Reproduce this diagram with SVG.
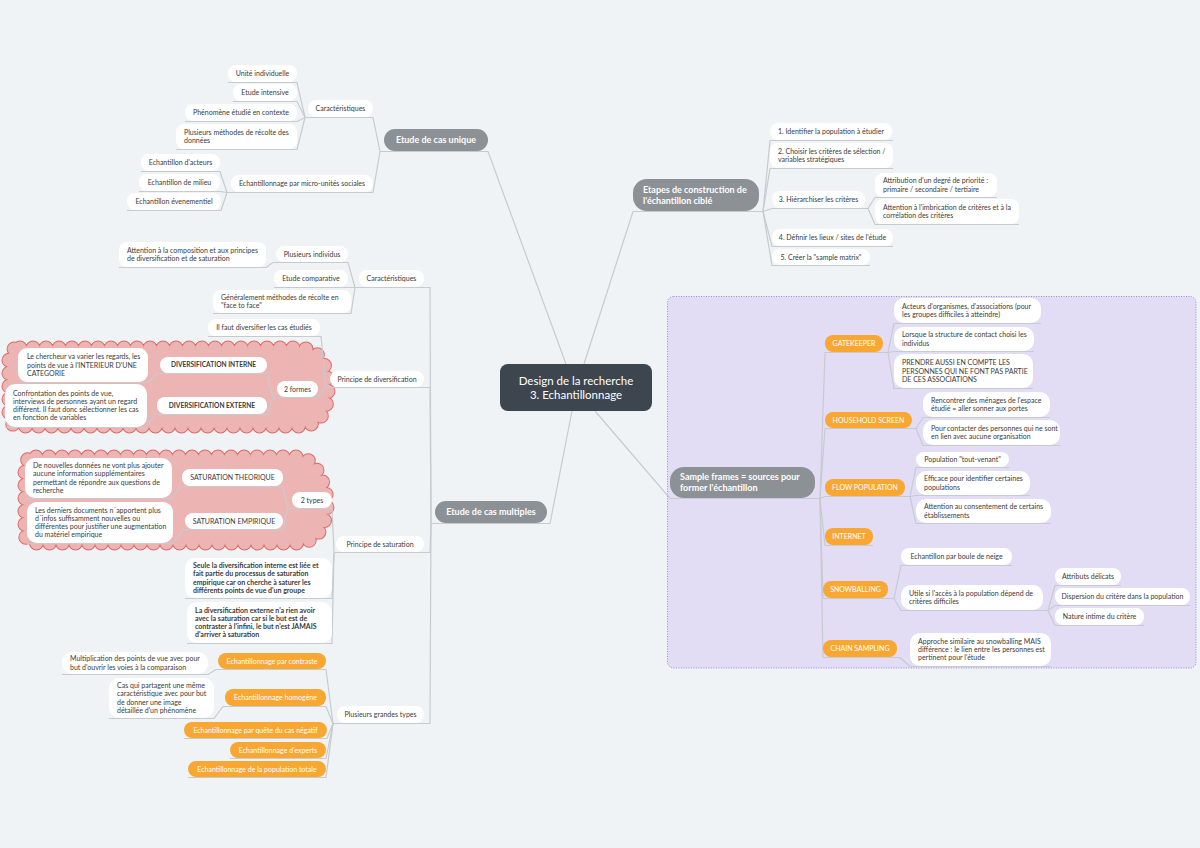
<svg xmlns="http://www.w3.org/2000/svg" width="1200" height="848" viewBox="0 0 1200 848">
<style>
text{font-family:Lato,"Noto Sans","Liberation Sans",sans-serif;font-size:7px;fill:#3a3a3a}
.m{text-anchor:middle}
.b{font-weight:bold}
.cap{font-size:6.6px}
.n rect{fill:#fff}
.o rect{fill:#f9a733}
.o text{fill:#fff}
.g rect{fill:#8c9196}
.g text{fill:#fff;font-weight:bold;font-size:9px}
#conn path{fill:none;stroke:#c6cbd0;stroke-width:1.2}
</style>
<defs>
<path id="cl1" d="M 20 348 H 300 Q 328 350 328 388 Q 328 426 300 426 H 20 Q 9 426 9 415 V 359 Q 9 348 20 348 Z"/>
<path id="cl2" d="M 36 457 H 296 Q 310 457 318 472 Q 330 494 326 515 Q 320 543 296 543 H 36 Q 25 543 25 532 V 468 Q 25 457 36 457 Z"/>
</defs>
<rect width="1200" height="848" fill="#eff3f6"/>
<g id="panel">
<rect x="667.5" y="296.5" width="528.5" height="371.5" rx="6" fill="#e2ddf5" stroke="#9a84e6" stroke-width="1" stroke-dasharray="1 1.5"/>
</g>
<g id="clouds">
<use href="#cl1" fill="none" stroke="#e06a68" stroke-width="15" stroke-dasharray="0 13" stroke-linecap="round"/>
<use href="#cl1" fill="#ecb5b4" stroke="#ecb5b4" stroke-width="13" stroke-dasharray="0 13" stroke-linecap="round"/>
<use href="#cl2" fill="none" stroke="#e06a68" stroke-width="15" stroke-dasharray="0 13" stroke-linecap="round"/>
<use href="#cl2" fill="#ecb5b4" stroke="#ecb5b4" stroke-width="13" stroke-dasharray="0 13" stroke-linecap="round"/>
</g>
<g id="conn">
<path d="M 566 364 L 488 151.5 H 380"/>
<path d="M 584 364 L 633 211.5 H 763"/>
<path d="M 572 411 L 550 523.5 H 431"/>
<path d="M 595 411 L 670 498.5 H 820"/>
<path d="M 380 151.5 L 373 117.5 H 305"/>
<path d="M 380 151.5 L 373 192.5 H 227"/>
<path d="M 305 117.5 L 297 82.5 H 228"/>
<path d="M 305 117.5 L 297 101.5 H 233"/>
<path d="M 305 117.5 L 297 121.5 H 185"/>
<path d="M 305 117.5 L 297 149.5 H 176"/>
<path d="M 227 192.5 L 220 171.5 H 141"/>
<path d="M 227 192.5 L 220 191.5 H 139"/>
<path d="M 227 192.5 L 221 210.5 H 127"/>
<path d="M 763 211.5 L 770 140.5 H 893"/>
<path d="M 763 211.5 L 770 168.5 H 893"/>
<path d="M 763 211.5 L 772 208.5 H 868"/>
<path d="M 763 211.5 L 772 246.5 H 893"/>
<path d="M 763 211.5 L 772 265.5 H 870"/>
<path d="M 868 208.5 L 875 197.5 H 997"/>
<path d="M 868 208.5 L 875 224.5 H 1019"/>
<path d="M 431 523.5 L 430 287.5 H 355"/>
<path d="M 431 523.5 L 430 387.5 H 326"/>
<path d="M 431 523.5 L 430 552.5 H 334"/>
<path d="M 431 523.5 L 430 723.5 H 333"/>
<path d="M 355 287.5 L 348 262.5 H 273"/>
<path d="M 273 262.5 L 266 267.5 H 119"/>
<path d="M 355 287.5 H 274"/>
<path d="M 355 287.5 L 351 313.5 H 213"/>
<path d="M 326 387.5 L 321 336.5 H 208"/>
<path d="M 326 387.5 L 318 397.5 H 273"/>
<path d="M 273 397.5 L 267 373.5 H 157"/>
<path d="M 273 397.5 L 267 414.5 H 154"/>
<path d="M 157 373.5 L 148 382.5 H 18"/>
<path d="M 154 414.5 L 147 427.5 H 5"/>
<path d="M 334 552.5 L 332 508.5 H 288"/>
<path d="M 334 552.5 L 332 598.5 H 185"/>
<path d="M 334 552.5 L 332 643.5 H 187"/>
<path d="M 288 508.5 L 283 486.5 H 180"/>
<path d="M 288 508.5 L 283 529.5 H 183"/>
<path d="M 180 486.5 L 172 498.5 H 25"/>
<path d="M 183 529.5 L 173 543.5 H 27"/>
<path d="M 333 723.5 L 326 669.5 H 216"/>
<path d="M 333 723.5 L 326 706.5 H 223"/>
<path d="M 333 723.5 L 327 738.5 H 184"/>
<path d="M 333 723.5 L 326 758.5 H 230"/>
<path d="M 333 723.5 L 326 777.5 H 188"/>
<path d="M 216 669.5 L 208 674.5 H 62"/>
<path d="M 223 706.5 L 214 718.5 H 109"/>
<path d="M 820 498.5 L 825 352.5 H 888"/>
<path d="M 820 498.5 L 825 428.5 H 916"/>
<path d="M 820 498.5 L 825 496.5 H 910"/>
<path d="M 820 498.5 L 825 545.5 H 873"/>
<path d="M 820 498.5 L 823 598.5 H 894"/>
<path d="M 820 498.5 L 823 657.5 H 900"/>
<path d="M 888 352.5 L 894 323.5 H 1041"/>
<path d="M 888 352.5 L 894 351.5 H 1034"/>
<path d="M 888 352.5 L 894 388.5 H 1033"/>
<path d="M 916 428.5 L 923 417.5 H 1050"/>
<path d="M 916 428.5 L 923 445.5 H 1060"/>
<path d="M 910 496.5 L 916 467.5 H 1009"/>
<path d="M 910 496.5 L 916 495.5 H 1030"/>
<path d="M 910 496.5 L 916 523.5 H 1051"/>
<path d="M 894 598.5 L 901 565.5 H 1012"/>
<path d="M 894 598.5 L 901 610.5 H 1048"/>
<path d="M 1048 610.5 L 1055 585.5 H 1121"/>
<path d="M 1048 610.5 L 1055 605.5 H 1190"/>
<path d="M 1048 610.5 L 1055 625.5 H 1144"/>
<path d="M 900 657.5 L 910 666.5 H 1051"/>
</g>

<g id="central"><rect x="500" y="364" width="152" height="47" rx="8" fill="#3d464e"/>
<text class="m" x="576" y="385" style="font-size:11.5px;fill:#fff">Design de la recherche</text>
<text class="m" x="576" y="398.5" style="font-size:11.5px;fill:#fff">3. Echantillonnage</text></g>

<g id="unique" class="g"><rect x="384" y="129" width="104" height="22" rx="11"/><text class="m" x="436" y="143.2">Etude de cas unique</text></g>
<g id="u-car" class="n"><rect x="308" y="100" width="65" height="17" rx="8"/><text class="m" x="340.5" y="111">Caractéristiques</text></g>
<g id="u-car1" class="n"><rect x="228" y="65" width="69" height="17" rx="8"/><text class="m" x="262.5" y="76">Unité individuelle</text></g>
<g id="u-car2" class="n"><rect x="233" y="84" width="64" height="17" rx="8"/><text class="m" x="265" y="95">Etude intensive</text></g>
<g id="u-car3" class="n"><rect x="185" y="104" width="112" height="17" rx="8"/><text class="m" x="241" y="115">Phénomène étudié en contexte</text></g>
<g id="u-car4" class="n"><rect x="176" y="124" width="121" height="25" rx="8"/><text x="184" y="134.9">Plusieurs méthodes de récolte des</text><text x="184" y="143.1">données</text></g>
<g id="u-micro" class="n"><rect x="231" y="175" width="142" height="17" rx="8"/><text class="m" x="302" y="186">Echantillonnage par micro-unités sociales</text></g>
<g id="u-mic1" class="n"><rect x="141" y="154" width="79" height="17" rx="8"/><text class="m" x="180.5" y="165">Echantillon d'acteurs</text></g>
<g id="u-mic2" class="n"><rect x="139" y="174" width="81" height="17" rx="8"/><text class="m" x="179.5" y="185">Echantillon de milieu</text></g>
<g id="u-mic3" class="n"><rect x="127" y="193" width="94" height="17" rx="8"/><text class="m" x="174" y="204">Echantillon évenementiel</text></g>

<g id="etapes" class="g"><rect x="633" y="179" width="126" height="32" rx="14"/><text x="643" y="192.9">Etapes de construction de</text><text x="643" y="203.6">l'échantillon ciblé</text></g>
<g id="e1" class="n"><rect x="770" y="123" width="122" height="17" rx="8"/><text class="m" x="831" y="134">1. Identifier la population à étudier</text></g>
<g id="e2" class="n"><rect x="770" y="143" width="123" height="25" rx="8"/><text x="778" y="153.9">2. Choisir les critères de sélection /</text><text x="778" y="162.1">variables stratégiques</text></g>
<g id="e3" class="n"><rect x="772" y="191" width="93" height="17" rx="8"/><text class="m" x="818.5" y="202">3. Hiérarchiser les critères</text></g>
<g id="e3a" class="n"><rect x="875" y="173" width="122" height="24" rx="8"/><text x="883" y="183.4">Attribution d'un degré de priorité :</text><text x="883" y="191.6">primaire / secondaire / tertiaire</text></g>
<g id="e3b" class="n"><rect x="875" y="199" width="144" height="25" rx="8"/><text x="883" y="209.9">Attention à l'imbrication de critères et à la</text><text x="883" y="218.1">corrélation des critères</text></g>
<g id="e4" class="n"><rect x="772" y="229" width="121" height="17" rx="8"/><text class="m" x="832.5" y="240">4. Définir les lieux / sites de l'étude</text></g>
<g id="e5" class="n"><rect x="772" y="249" width="98" height="16" rx="8"/><text class="m" x="821" y="259.5">5. Créer la "sample matrix"</text></g>

<g id="multiples" class="g"><rect x="435" y="501" width="112" height="22" rx="11"/><text class="m" x="491" y="515.2">Etude de cas multiples</text></g>
<g id="m-car" class="n"><rect x="359" y="270" width="65" height="17" rx="8"/><text class="m" x="391.5" y="281">Caractéristiques</text></g>
<g id="m-car1" class="n"><rect x="276" y="246" width="72" height="16" rx="8"/><text class="m" x="312" y="256.5">Plusieurs individus</text></g>
<g id="m-car1a" class="n"><rect x="119" y="242" width="147" height="25" rx="8"/><text x="127" y="252.9">Attention à la composition et aux principes</text><text x="127" y="261.1">de diversification et de saturation</text></g>
<g id="m-car2" class="n"><rect x="274" y="270" width="74" height="17" rx="8"/><text class="m" x="311" y="281">Etude comparative</text></g>
<g id="m-car3" class="n"><rect x="213" y="290" width="138" height="23" rx="8"/><text x="221" y="299.9">Généralement méthodes de récolte en</text><text x="221" y="308.1">"face to face"</text></g>
<g id="m-div" class="n"><rect x="330" y="371" width="94" height="16" rx="8"/><text class="m" x="377" y="381.5">Principe de diversification</text></g>
<g id="m-div1" class="n"><rect x="208" y="319" width="112" height="17" rx="8"/><text class="m" x="264" y="330">Il faut diversifier les cas étudiés</text></g>
<g id="m-div2" class="n"><rect x="277" y="381" width="41" height="16" rx="8"/><text class="m" x="297.5" y="391.5">2 formes</text></g>
<g id="m-divi" class="n"><rect x="160" y="357" width="107" height="16" rx="8"/><text class="m b cap" x="213.5" y="367.4">DIVERSIFICATION INTERNE</text></g>
<g id="m-divi1" class="n"><rect x="18" y="348" width="130" height="34" rx="9"/><text x="27" y="359.3">Le chercheur va varier les regards, les</text><text x="27" y="367.5">points de vue à l'INTERIEUR D'UNE</text><text x="27" y="375.7">CATEGORIE</text></g>
<g id="m-dive" class="n"><rect x="157" y="397" width="110" height="17" rx="8"/><text class="m b cap" x="212" y="407.9">DIVERSIFICATION EXTERNE</text></g>
<g id="m-dive1" class="n"><rect x="5" y="384" width="142" height="43" rx="10"/><text x="13" y="395.7">Confrontation des points de vue,</text><text x="13" y="403.9">interviews de personnes ayant un regard</text><text x="13" y="412.1">différent. Il faut donc sélectionner les cas</text><text x="13" y="420.3">en fonction de variables</text></g>
<g id="m-sat" class="n"><rect x="336" y="536" width="88" height="16" rx="8"/><text class="m" x="380" y="546.5">Principe de saturation</text></g>
<g id="m-sat1" class="n"><rect x="292" y="492" width="40" height="16" rx="8"/><text class="m" x="312" y="502.5">2 types</text></g>
<g id="m-satt" class="n"><rect x="182" y="469" width="101" height="17" rx="8"/><text class="m" x="232.5" y="480">SATURATION THEORIQUE</text></g>
<g id="m-satt1" class="n"><rect x="25" y="458" width="147" height="40" rx="10"/><text x="33" y="468.2">De nouvelles données ne vont plus ajouter</text><text x="33" y="476.4">aucune information supplémentaires</text><text x="33" y="484.6">permettant de répondre aux questions de</text><text x="33" y="492.8">recherche</text></g>
<g id="m-sate" class="n"><rect x="185" y="513" width="98" height="16" rx="8"/><text class="m" x="234" y="523.5">SATURATION EMPIRIQUE</text></g>
<g id="m-sate1" class="n"><rect x="27" y="502" width="146" height="41" rx="10"/><text x="35" y="512.7">Les derniers documents n´apportent plus</text><text x="35" y="520.9">d´infos suffisamment nouvelles ou</text><text x="35" y="529.1">différentes pour justifier une augmentation</text><text x="35" y="537.3">du matériel empirique</text></g>
<g id="m-sat2" class="n"><rect x="185" y="558" width="147" height="40" rx="10"/><text class="b" x="193" y="568.2">Seule la diversification interne est liée et</text><text class="b" x="193" y="576.4">fait partie du processus de saturation</text><text class="b" x="193" y="584.6">empirique car on cherche à saturer les</text><text class="b" x="193" y="592.8">différents points de vue d'un groupe</text></g>
<g id="m-sat3" class="n"><rect x="187" y="602" width="145" height="41" rx="10"/><text class="b" x="195" y="612.7">La diversification externe n'a rien avoir</text><text class="b" x="195" y="620.9">avec la saturation car si le but est de</text><text class="b" x="195" y="629.1">contraster à l'infini, le but n'est JAMAIS</text><text class="b" x="195" y="637.3">d'arriver à saturation</text></g>
<g id="m-typ" class="n"><rect x="337" y="706" width="87" height="17" rx="8"/><text class="m" x="380.5" y="717">Plusieurs grandes types</text></g>
<g id="m-typ1" class="o"><rect x="218" y="653" width="108" height="16" rx="8"/><text class="m" x="272" y="663.5">Echantillonnage par contraste</text></g>
<g id="m-typ1a" class="n"><rect x="62" y="652" width="146" height="22" rx="10"/><text x="70" y="661.4">Multiplication des points de vue avec pour</text><text x="70" y="669.6">but d'ouvrir les voies à la comparaison</text></g>
<g id="m-typ2" class="o"><rect x="225" y="689" width="101" height="17" rx="8"/><text class="m" x="275.5" y="700">Echantillonnage homogène</text></g>
<g id="m-typ2a" class="n"><rect x="109" y="678" width="105" height="40" rx="10"/><text x="117" y="688.2">Cas qui partagent une même</text><text x="117" y="696.4">caractéristique avec pour but</text><text x="117" y="704.6">de donner une image</text><text x="117" y="712.8">détaillée d'un phénomène</text></g>
<g id="m-typ3" class="o"><rect x="184" y="722" width="143" height="16" rx="8"/><text class="m" x="255.5" y="732.5">Echantillonnage par quête du cas négatif</text></g>
<g id="m-typ4" class="o"><rect x="230" y="742" width="96" height="16" rx="8"/><text class="m" x="278" y="752.5">Echantillonnage d'experts</text></g>
<g id="m-typ5" class="o"><rect x="188" y="761" width="138" height="16" rx="8"/><text class="m" x="257" y="771.5">Echantillonnage de la population totale</text></g>

<g id="frames" class="g"><rect x="670" y="467" width="145" height="31" rx="14"/><text x="680" y="480.3">Sample frames = sources pour</text><text x="680" y="491">former l'échantillon</text></g>
<g id="f-gate" class="o"><rect x="825" y="335" width="58" height="17" rx="8"/><text class="m" x="854" y="346">GATEKEEPER</text></g>
<g id="f-gate1" class="n"><rect x="894" y="298" width="147" height="25" rx="10"/><text x="902" y="308.9">Acteurs d'organismes, d'associations (pour</text><text x="902" y="317.1">les groupes difficiles à atteindre)</text></g>
<g id="f-gate2" class="n"><rect x="894" y="327" width="140" height="24" rx="10"/><text x="902" y="337.4">Lorsque la structure de contact choisi les</text><text x="902" y="345.6">individus</text></g>
<g id="f-gate3" class="n"><rect x="894" y="354" width="139" height="34" rx="10"/><text x="902" y="365.3">PRENDRE AUSSI EN COMPTE LES</text><text x="902" y="373.5">PERSONNES QUI NE FONT PAS PARTIE</text><text x="902" y="381.7">DE CES ASSOCIATIONS</text></g>
<g id="f-house" class="o"><rect x="825" y="412" width="87" height="16" rx="8"/><text class="m" x="868.5" y="422.5">HOUSEHOLD SCREEN</text></g>
<g id="f-house1" class="n"><rect x="923" y="392" width="127" height="25" rx="10"/><text x="931" y="402.9">Rencontrer des ménages de l'espace</text><text x="931" y="411.1">étudié = aller sonner aux portes</text></g>
<g id="f-house2" class="n"><rect x="923" y="420" width="137" height="25" rx="10"/><text x="931" y="430.9">Pour contacter des personnes qui ne sont</text><text x="931" y="439.1">en lien avec aucune organisation</text></g>
<g id="f-flow" class="o"><rect x="825" y="479" width="80" height="17" rx="8"/><text class="m" x="865" y="490">FLOW POPULATION</text></g>
<g id="f-flow1" class="n"><rect x="916" y="452" width="93" height="15" rx="7.5"/><text class="m" x="962.5" y="462">Population "tout-venant"</text></g>
<g id="f-flow2" class="n"><rect x="916" y="471" width="114" height="24" rx="10"/><text x="924" y="481.4">Efficace pour identifier certaines</text><text x="924" y="489.6">populations</text></g>
<g id="f-flow3" class="n"><rect x="916" y="499" width="135" height="24" rx="10"/><text x="924" y="509.4">Attention au consentement de certains</text><text x="924" y="517.6">établissements</text></g>
<g id="f-internet" class="o"><rect x="825" y="528" width="48" height="17" rx="8"/><text class="m" x="849" y="539">INTERNET</text></g>
<g id="f-snow" class="o"><rect x="823" y="581" width="65" height="17" rx="8"/><text class="m" x="855.5" y="592">SNOWBALLING</text></g>
<g id="f-snow1" class="n"><rect x="901" y="548" width="111" height="17" rx="8"/><text class="m" x="956.5" y="559">Echantillon par boule de neige</text></g>
<g id="f-snow2" class="n"><rect x="901" y="585" width="142" height="25" rx="10"/><text x="909" y="595.9">Utile si l'accès à la population dépend de</text><text x="909" y="604.1">critères difficiles</text></g>
<g id="f-snow2a" class="n"><rect x="1055" y="568" width="66" height="17" rx="8"/><text class="m" x="1088" y="579">Attributs délicats</text></g>
<g id="f-snow2b" class="n"><rect x="1055" y="588" width="135" height="17" rx="8"/><text class="m" x="1122.5" y="599">Dispersion du critère dans la population</text></g>
<g id="f-snow2c" class="n"><rect x="1055" y="608" width="89" height="17" rx="8"/><text class="m" x="1099.5" y="619">Nature intime du critère</text></g>
<g id="f-chain" class="o"><rect x="823" y="640" width="74" height="17" rx="8"/><text class="m" x="860" y="651">CHAIN SAMPLING</text></g>
<g id="f-chain1" class="n"><rect x="910" y="633" width="141" height="33" rx="10"/><text x="918" y="643.8">Approche similaire au snowballing MAIS</text><text x="918" y="652">différence : le lien entre les personnes est</text><text x="918" y="660.2">pertinent pour l'étude</text></g>
</svg>
